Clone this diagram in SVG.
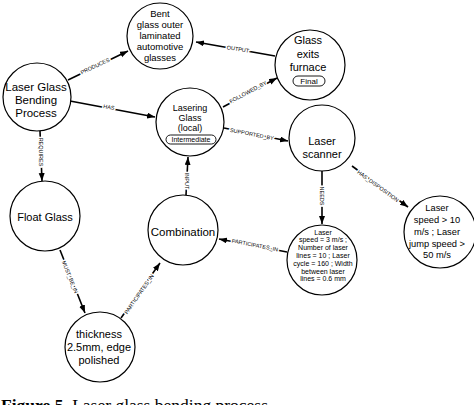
<svg xmlns="http://www.w3.org/2000/svg" width="474" height="405" viewBox="0 0 474 405">
<style>
.n{fill:#fff;stroke:#000;stroke-width:1.2}
.t{font-family:"Liberation Sans",Arial,sans-serif;fill:#000;text-anchor:middle}
.e{stroke:#000;stroke-width:1.6;fill:none;marker-end:url(#ah)}
.l{font-family:"Liberation Sans",Arial,sans-serif;font-size:5.5px;fill:#000;text-anchor:middle;stroke:#fff;stroke-width:3;paint-order:stroke;dominant-baseline:central}
.b{fill:#fff;stroke:#000;stroke-width:0.9}
</style>
<defs>
<marker id="ah" markerUnits="userSpaceOnUse" markerWidth="9" markerHeight="7" refX="8" refY="3" orient="auto">
<path d="M0,0 L8,3 L0,6 z" fill="#000"/>
</marker>
</defs>
<rect width="474" height="405" fill="#fff"/>
<g id="connectors">
<line class="e" x1="68" y1="80" x2="128" y2="51"/>
<text class="l" transform="translate(95,66) rotate(-25)">PRODUCES</text>
<line class="e" x1="70" y1="101" x2="155" y2="117"/>
<text class="l" transform="translate(109,107) rotate(11)">HAS</text>
<line class="e" x1="275" y1="56" x2="196" y2="42"/>
<text class="l" transform="translate(238,49) rotate(9)">OUTPUT</text>
<line class="e" x1="223" y1="107" x2="277" y2="78"/>
<text class="l" transform="translate(248,92) rotate(-28)">FOLLOWED_BY</text>
<line class="e" x1="224" y1="128" x2="288" y2="141"/>
<text class="l" transform="translate(252,134) rotate(11)">SUPPORTED_BY</text>
<line class="e" x1="352" y1="166" x2="408" y2="207"/>
<text class="l" transform="translate(378,186) rotate(36)">HAS_DISPOSITION</text>
<line class="e" x1="322" y1="171" x2="322" y2="224"/>
<text class="l" transform="translate(322,196) rotate(90)">NEEDS</text>
<line class="e" x1="287" y1="252" x2="219" y2="239"/>
<text class="l" transform="translate(255,245) rotate(11)">PARTICIPATES_IN</text>
<line class="e" x1="186" y1="195" x2="188" y2="157"/>
<text class="l" transform="translate(187,181) rotate(90)">INPUT</text>
<line class="e" x1="40" y1="131" x2="42" y2="181"/>
<text class="l" transform="translate(41,152) rotate(90)">REQUIRES</text>
<line class="e" x1="60" y1="250" x2="85" y2="313"/>
<text class="l" transform="translate(70,277) rotate(68)">MUST_BE_IN</text>
<line class="e" x1="121" y1="318" x2="160" y2="263"/>
<text class="l" transform="translate(139,294) rotate(-55)">PARTICIPATES_IN</text>
</g>
<g id="node-lgbp">
<circle class="n" cx="37" cy="97" r="34"/>
<text class="t" font-size="11.5"><tspan x="36" y="91">Laser Glass</tspan><tspan x="36" y="104">Bending</tspan><tspan x="36" y="117">Process</tspan></text>
</g>
<g id="node-bent">
<circle class="n" cx="160" cy="36" r="33"/>
<text class="t" font-size="9.5"><tspan x="160" y="16.5">Bent</tspan><tspan x="160" y="28">glass outer</tspan><tspan x="160" y="39">laminated</tspan><tspan x="160" y="50">automotive</tspan><tspan x="160" y="61">glasses</tspan></text>
</g>
<g id="node-furnace">
<circle class="n" cx="310" cy="65" r="35"/>
<text class="t" font-size="11"><tspan x="308" y="44">Glass</tspan><tspan x="308" y="57.5">exits</tspan><tspan x="308" y="71">furnace</tspan></text>
<rect class="b" x="293" y="76" width="32" height="10" rx="5"/>
<text class="t" font-size="8" x="309" y="84">Final</text>
</g>
<g id="node-lasering">
<circle class="n" cx="190" cy="122" r="34"/>
<text class="t" font-size="9"><tspan x="190" y="110.5">Lasering</tspan><tspan x="190" y="120.5">Glass</tspan><tspan x="190" y="130.5">(local)</tspan></text>
<rect class="b" x="166" y="135" width="50" height="9" rx="4.5"/>
<text class="t" font-size="7" x="191" y="142">Intermediate</text>
</g>
<g id="node-scanner">
<circle class="n" cx="322" cy="138" r="33"/>
<text class="t" font-size="11"><tspan x="322" y="145">Laser</tspan><tspan x="322" y="157.5">scanner</tspan></text>
</g>
<g id="node-disposition">
<circle class="n" cx="440" cy="232" r="36"/>
<text class="t" font-size="9.3"><tspan x="437" y="210.5">Laser</tspan><tspan x="437" y="223">speed &gt; 10</tspan><tspan x="437" y="235">m/s ; Laser</tspan><tspan x="437" y="246.5">jump speed &gt;</tspan><tspan x="437" y="257.5">50 m/s</tspan></text>
</g>
<g id="node-needs">
<circle class="n" cx="322" cy="260" r="35"/>
<text class="t" font-size="7"><tspan x="323" y="234.5">Laser</tspan><tspan x="323" y="242.3">speed = 3 m/s ;</tspan><tspan x="323" y="250.1">Number of laser</tspan><tspan x="323" y="257.9">lines = 10 ; Laser</tspan><tspan x="323" y="265.7">cycle = 160 ; Width</tspan><tspan x="323" y="273.5">between laser</tspan><tspan x="323" y="281.3">lines = 0.6 mm</tspan></text>
</g>
<g id="node-combination">
<circle class="n" cx="183" cy="230" r="35"/>
<text class="t" font-size="11.5" x="183" y="236">Combination</text>
</g>
<g id="node-float">
<circle class="n" cx="45" cy="216" r="35"/>
<text class="t" font-size="11" x="45" y="221">Float Glass</text>
</g>
<g id="node-thickness">
<circle class="n" cx="100" cy="347" r="35"/>
<text class="t" font-size="11"><tspan x="99" y="338">thickness</tspan><tspan x="99" y="351">2.5mm, edge</tspan><tspan x="99" y="364">polished</tspan></text>
</g>
<text font-family="'Liberation Serif','Times New Roman',serif" font-size="17.5" x="1" y="410.5"><tspan font-weight="bold">Figure 5.</tspan> Laser glass bending process</text>
</svg>
